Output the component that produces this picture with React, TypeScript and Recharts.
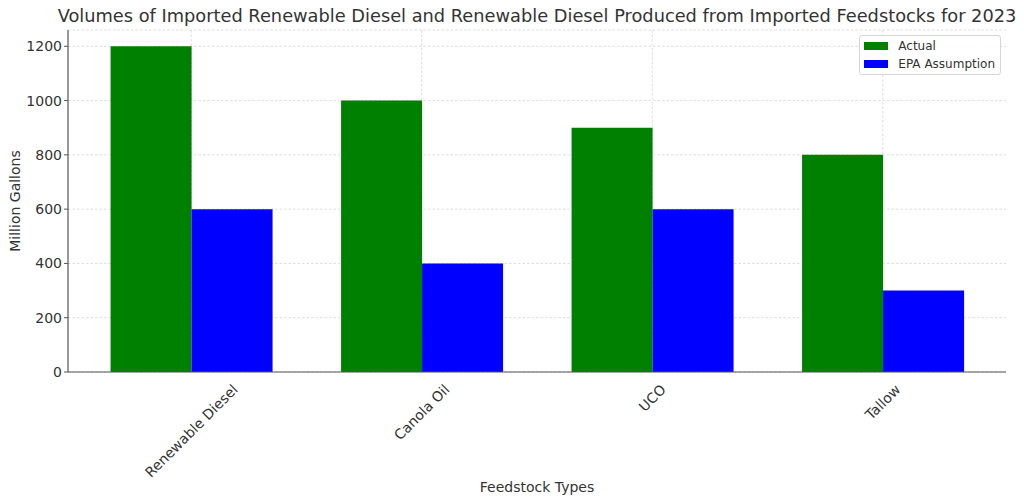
import React from 'react';
import { BarChart, Bar, XAxis, YAxis, CartesianGrid, Label } from 'recharts';

const categories = ['Renewable Diesel', 'Canola Oil', 'UCO', 'Tallow'];
const actualValues = [1200, 1000, 900, 800];
const epaValues = [600, 400, 600, 300];
const yTicks = [0, 200, 400, 600, 800, 1000, 1200];
const seriesNames = ['Actual', 'EPA Assumption'];
const seriesColors = ['#008000', '#0000ff'];

const data = categories.map((c, i) => ({ name: c, actual: actualValues[i], epa: epaValues[i] }));

const FONT = '"DejaVu Sans", sans-serif';
const TEXT = '#333333';
const TICK_SIZE = 14;
const X_PAD = 8;

let canvasCtx: CanvasRenderingContext2D | null = null;
function measure(text: string, size: number): number {
  if (!canvasCtx) {
    const c = document.createElement('canvas');
    canvasCtx = c.getContext('2d');
  }
  if (!canvasCtx) return text.length * size * 0.6;
  canvasCtx.font = `${size}px "DejaVu Sans"`;
  return canvasCtx.measureText(text).width;
}

const XTick = (props: any) => {
  const { x, y, payload } = props;
  const size = TICK_SIZE;
  const w = measure(String(payload.value), size);
  const h = size * 0.8;
  const bboxH = (w + h) * Math.SQRT1_2;
  const cy = y + 3 + bboxH / 2;
  return (
    <text
      x={x}
      y={cy}
      textAnchor="middle"
      dominantBaseline="central"
      transform={`rotate(-45, ${x}, ${cy})`}
      fontSize={size}
      fontFamily={FONT}
      fill={TEXT}
    >
      {payload.value}
    </text>
  );
};

const verticalGen = (props: any) => {
  try {
    const s = props && props.xAxis && props.xAxis.scale;
    if (s) {
      const bw = typeof s.bandwidth === 'function' ? s.bandwidth() : 0;
      const apply = typeof s === 'function' ? (c: string) => s(c) : typeof s.map === 'function' ? (c: string) => s.map(c) : null;
      if (apply) {
        const pts = categories.map((c) => apply(c));
        if (pts.every((v: any) => typeof v === 'number' && !isNaN(v))) return pts.map((v: number) => v + bw / 2);
      }
    }
  } catch (e) {
    // fall through
  }
  const off = props.offset || {};
  const left = (off.left || 0) + X_PAD;
  const inner = (off.width || 0) - 2 * X_PAD;
  const band = inner / categories.length;
  return categories.map((_, i) => left + band * (i + 0.5));
};

const LegendBox = () => (
  <div
    style={{
      position: 'absolute',
      right: 23,
      top: 35,
      border: '1px solid #d6d6d6',
      borderRadius: 3,
      background: 'rgba(255,255,255,0.85)',
      padding: '1px 5px 1px 4px',
      fontFamily: FONT,
      fontSize: 12,
      color: TEXT,
    }}
  >
    {seriesNames.map((label, i) => (
      <div key={label} style={{ display: 'flex', alignItems: 'center', height: 18 }}>
        <span style={{ display: 'inline-block', width: 24, height: 8, background: seriesColors[i], marginRight: 10 }} />
        <span>{label}</span>
      </div>
    ))}
  </div>
);

export default function App() {
  return (
    <div style={{ position: 'absolute', left: 0, top: 0, width: 1024, height: 503, background: '#fff', overflow: 'hidden' }}>
      <BarChart
        width={1024}
        height={503}
        data={data}
        margin={{ top: 30, right: 18, bottom: 0, left: 0 }}
        barCategoryGap="15%"
        barGap={0}
      >
        <XAxis
          dataKey="name"
          height={131}
          padding={{ left: X_PAD, right: X_PAD }}
          tickLine={false}
          axisLine={{ stroke: '#555555', strokeWidth: 1.2 }}
          tick={<XTick />}
          interval={0}
        >
          <Label
            content={() => (
              <text x={537} y={487} textAnchor="middle" dominantBaseline="central" fontSize={14} fontFamily={FONT} fill={TEXT}>
                Feedstock Types
              </text>
            )}
          />
        </XAxis>
        <YAxis
          width={68}
          domain={[0, 1260]}
          ticks={yTicks}
          tickSize={4}
          tickMargin={2}
          tickLine={{ stroke: '#555555' }}
          axisLine={{ stroke: '#555555', strokeWidth: 1.2 }}
          tick={{ fontSize: TICK_SIZE, fontFamily: FONT, fill: TEXT }}
          allowDataOverflow
        >
          <Label
            content={() => (
              <text
                x={15}
                y={201}
                textAnchor="middle"
                dominantBaseline="central"
                transform="rotate(-90, 15, 201)"
                fontSize={14}
                fontFamily={FONT}
                fill={TEXT}
              >
                Million Gallons
              </text>
            )}
          />
        </YAxis>
        <Bar dataKey="actual" name={seriesNames[0]} fill={seriesColors[0]} isAnimationActive={false} />
        <Bar dataKey="epa" name={seriesNames[1]} fill={seriesColors[1]} isAnimationActive={false} />
        <CartesianGrid
          stroke="#b0b0b0"
          strokeOpacity={0.55}
          strokeWidth={0.8}
          strokeDasharray="2.5 2"
          verticalCoordinatesGenerator={verticalGen}
        />
      </BarChart>
      <div
        style={{
          position: 'absolute',
          left: 37,
          width: 1000,
          top: 5,
          textAlign: 'center',
          fontFamily: FONT,
          fontSize: 17.8,
          color: TEXT,
          whiteSpace: 'nowrap',
        }}
      >
        Volumes of Imported Renewable Diesel and Renewable Diesel Produced from Imported Feedstocks for 2023
      </div>
      <LegendBox />
    </div>
  );
}
